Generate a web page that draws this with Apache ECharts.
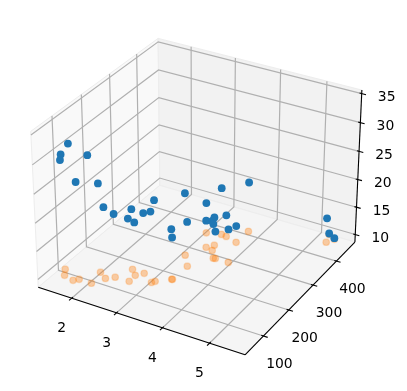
<!DOCTYPE html>
<html>
<head>
<meta charset="utf-8">
<style>html,body{margin:0;padding:0;background:#fff}#main{width:407px;height:391px}</style>
<script src="https://cdn.jsdelivr.net/npm/echarts@6/dist/echarts.min.js"></script>
</head>
<body>
<div id="main"></div>
<script>
const xTicks = [2, 3, 4, 5];
const yTicks = [100, 200, 300, 400];
const zTicks = [10, 15, 20, 25, 30, 35];
const xValues = [1.68, 1.33, 1.44, 2.04, 1.76, 1.98, 2.18, 2.32, 2.46, 2.63, 2.62, 2.73, 3.02, 3.06, 3.30, 3.31, 3.08, 3.32, 3.02, 3.31, 3.72, 3.43, 3.29, 3.39, 3.45, 3.61, 3.65, 3.94, 3.71, 5.25, 5.17, 5.34];
const yValues = [84, 110, 91, 93, 93, 135, 121, 134, 175, 135, 159, 174, 153, 160, 182, 183, 271, 238, 365, 375, 412, 373, 317, 332, 313, 289, 290, 290, 363, 453, 482, 471];
const zValues = [32.5, 28.9, 28.9, 31.0, 25.8, 24.4, 21.3, 19.9, 19.4, 19.8, 18.1, 19.4, 21.2, 23.0, 17.6, 16.1, 19.8, 16.6, 14.1, 17.1, 17.6, 12.5, 13.5, 13.7, 14.0, 14.8, 13.5, 14.6, 11.6, 13.0, 8.8, 8.8];
// outer box of the 3d axes (a bit wider than the data)
const xLim = [1.24, 5.74];
const yLim = [30, 482];
const zLim = [8.6, 35.6];

// same view as matplotlib's default: elev 30, azim -60, box 4:4:3, dist 10
const boxSize = [1.1905, 1.1905, 0.8929];
const U = [0.866, 0.5, 0];
const V = [-0.25, 0.433, 0.866];
const W = [0.433, -0.75, 0.5];
const dot = (a, b) => a[0] * b[0] + a[1] * b[1] + a[2] * b[2];

function project(x, y, z) {
  const q = [
    ((x - xLim[0]) / (xLim[1] - xLim[0]) - 0.5) * boxSize[0],
    ((y - yLim[0]) / (yLim[1] - yLim[0]) - 0.5) * boxSize[1],
    ((z - zLim[0]) / (zLim[1] - zLim[0]) - 0.5) * boxSize[2]
  ];
  const d = 10 - dot(W, q);
  return [dot(U, q) / d, dot(V, q) / d];
}

const [x0, x1] = xLim, [y0, y1] = yLim, [z0, z1] = zLim;

const panes = [
  {pts: [[x0, y0, z0], [x0, y1, z0], [x0, y1, z1], [x0, y0, z1]], color: '#f9f9f9'},
  {pts: [[x0, y1, z0], [x1, y1, z0], [x1, y1, z1], [x0, y1, z1]], color: '#f2f2f2'},
  {pts: [[x0, y0, z0], [x1, y0, z0], [x1, y1, z0], [x0, y1, z0]], color: '#f5f5f5'}
];

const gridLines = [];
xTicks.forEach(t => gridLines.push([[t, y0, z0], [t, y1, z0], [t, y1, z1]]));
yTicks.forEach(t => gridLines.push([[x1, t, z0], [x0, t, z0], [x0, t, z1]]));
zTicks.forEach(t => gridLines.push([[x0, y0, t], [x0, y1, t], [x1, y1, t]]));

const axisLines = [
  [[x0, y0, z0], [x1, y0, z0]],
  [[x1, y0, z0], [x1, y1, z0]],
  [[x1, y1, z0], [x1, y1, z1]]
];
const yStep = y1 - y0, xStep = x1 - x0;
xTicks.forEach(t => axisLines.push([[t, y0 - yStep * 0.02, z0], [t, y0 + yStep * 0.01, z0]]));
yTicks.forEach(t => axisLines.push([[x1 - xStep * 0.01, t, z0], [x1 + xStep * 0.02, t, z0]]));
zTicks.forEach(t => axisLines.push([[x1 - xStep * 0.01, y1, t], [x1 + xStep * 0.02, y1, t]]));

const labels = [];
xTicks.forEach(t => labels.push({pos: [t, y0, z0], text: String(t), dx: -10, dy: 30.5}));
yTicks.forEach(t => labels.push({pos: [x1, t, z0], text: String(t), dx: 16, dy: 28}));
zTicks.forEach(t => labels.push({pos: [x1, y1, t], text: String(t), dx: 25, dy: 4}));

function polyRender(color, width) {
  return function (params, api) {
    const pts = JSON.parse(api.value(0)).map(p => api.coord(project(p[0], p[1], p[2])));
    return {
      type: 'polyline',
      shape: {points: pts},
      style: {fill: null, stroke: color, lineWidth: width}
    };
  };
}

const chart = echarts.init(document.getElementById('main'), null, {renderer: 'canvas'});
chart.setOption({
  animation: false,
  backgroundColor: '#fff',
  grid: {left: 0, right: 0, top: 0, bottom: 0},
  xAxis: {type: 'value', min: -199.5 / 1990, max: 207.5 / 1990, show: false},
  yAxis: {type: 'value', min: -202 / 1990, max: 189 / 1990, show: false},
  series: [
    {
      type: 'custom',
      silent: true,
      z: 1,
      coordinateSystem: 'cartesian2d',
      encode: {x: 1, y: 2},
      data: panes.map(p => [JSON.stringify(p.pts), 0, 0, p.color]),
      renderItem: (params, api) => ({
        type: 'polygon',
        shape: {points: panes[params.dataIndex].pts.map(p => api.coord(project(p[0], p[1], p[2])))},
        style: {fill: panes[params.dataIndex].color, stroke: '#ededed', lineWidth: 1}
      })
    },
    {
      type: 'custom',
      silent: true,
      z: 2,
      encode: {x: 1, y: 2},
      data: gridLines.map(l => [JSON.stringify(l), 0, 0]),
      renderItem: polyRender('#b0b0b0', 1.2)
    },
    {
      type: 'custom',
      silent: true,
      z: 3,
      encode: {x: 1, y: 2},
      data: axisLines.map(l => [JSON.stringify(l), 0, 0]),
      renderItem: polyRender('#000', 1.1)
    },
    {
      type: 'custom',
      silent: true,
      z: 3,
      encode: {x: 1, y: 2},
      data: labels.map((l, i) => [i, 0, 0]),
      renderItem: (params, api) => {
        const l = labels[params.dataIndex];
        const c = api.coord(project(l.pos[0], l.pos[1], l.pos[2]));
        return {
          type: 'text',
          style: {
            x: c[0] + l.dx, y: c[1] + l.dy, text: l.text,
            align: 'center', verticalAlign: 'middle',
            fill: '#000', font: "13.9px 'DejaVu Sans'"
          }
        };
      }
    },
    {
      name: 'floor',
      type: 'scatter',
      silent: true,
      z: 4,
      symbolSize: 6.6,
      itemStyle: {color: 'rgba(255,127,14,0.36)', borderColor: 'rgba(255,127,14,0.22)', borderWidth: 1.2, opacity: 1},
      data: xValues.map((x, i) => project(x, yValues[i], z0))
    },
    {
      name: 'points',
      type: 'scatter',
      silent: true,
      z: 5,
      symbolSize: 7.8,
      itemStyle: {color: '#1f77b4', opacity: 1},
      data: xValues.map((x, i) => project(x, yValues[i], zValues[i]))
    }
  ]
});
</script>
</body>
</html>
